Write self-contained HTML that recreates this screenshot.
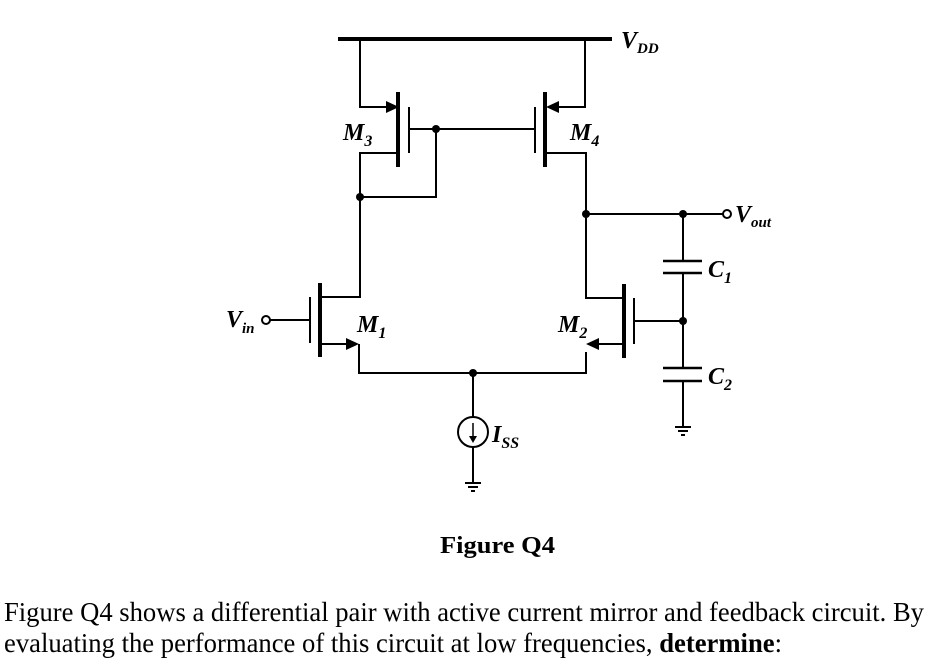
<!DOCTYPE html>
<html><head><meta charset="utf-8"><style>
html,body{margin:0;padding:0;background:#fff;}
svg{display:block}
</style></head><body>
<svg width="948" height="665" viewBox="0 0 948 665" xmlns="http://www.w3.org/2000/svg">
<g stroke="#000" stroke-width="2" fill="none">
<line x1="338" y1="39" x2="612" y2="39" stroke-width="4"/>
<polyline points="360,39 360,107 390,107"/>
<line x1="398" y1="92" x2="398" y2="167" stroke-width="4"/>
<line x1="409" y1="107" x2="409" y2="153"/>
<polyline points="398,153 360,153 360,197 436,197 436,129"/>
<line x1="409" y1="129" x2="535" y2="129"/>
<line x1="545" y1="92" x2="545" y2="167" stroke-width="4"/>
<line x1="535" y1="107" x2="535" y2="153"/>
<polyline points="554,107 585,107 585,39"/>
<polyline points="545,153 586,153 586,298 624,298"/>
<polyline points="360,197 360,297 320,297"/>
<line x1="320" y1="283" x2="320" y2="357" stroke-width="4"/>
<line x1="310" y1="297" x2="310" y2="343"/>
<line x1="270" y1="320" x2="310" y2="320"/>
<polyline points="320,344 350,344"/>
<polyline points="359,344 359,373 586,373 586,352"/>
<line x1="624" y1="284" x2="624" y2="358" stroke-width="4"/>
<line x1="634" y1="298" x2="634" y2="344"/>
<line x1="634" y1="321" x2="683" y2="321"/>
<line x1="596" y1="344" x2="624" y2="344"/>
<line x1="586" y1="214" x2="723" y2="214"/>
<line x1="683" y1="214" x2="683" y2="261"/>
<line x1="663" y1="261" x2="702" y2="261" stroke-width="2.5"/>
<line x1="663" y1="273" x2="702" y2="273" stroke-width="2.5"/>
<line x1="683" y1="273" x2="683" y2="368"/>
<line x1="663" y1="368" x2="702" y2="368" stroke-width="2.5"/>
<line x1="663" y1="381" x2="702" y2="381" stroke-width="2.5"/>
<line x1="683" y1="381" x2="683" y2="426"/>
<line x1="675" y1="427" x2="691" y2="427"/>
<line x1="678" y1="431" x2="688" y2="431"/>
<line x1="681" y1="435" x2="685" y2="435"/>
<line x1="473" y1="373" x2="473" y2="417"/>
<circle cx="473" cy="432" r="15"/>
<line x1="473" y1="423" x2="473" y2="440" stroke-width="1.5"/>
<line x1="473" y1="447" x2="473" y2="482"/>
<line x1="465" y1="483" x2="481" y2="483"/>
<line x1="468" y1="487" x2="478" y2="487"/>
<line x1="471" y1="491" x2="475" y2="491"/>
<circle cx="266" cy="320" r="4" fill="#fff"/>
<circle cx="727" cy="214" r="4" fill="#fff"/>
</g>
<g fill="#000">
<polygon points="399,107 386,101 386,113"/>
<polygon points="546,107 559,101 559,113"/>
<polygon points="359,344 346,338 346,350"/>
<polygon points="586,344 599,338 599,350"/>
<polygon points="473,443 469,436 477,436"/>
<circle cx="436" cy="129" r="4"/><circle cx="360" cy="197" r="4"/>
<circle cx="586" cy="214" r="4"/><circle cx="683" cy="214" r="4"/>
<circle cx="683" cy="321" r="4"/><circle cx="473" cy="373" r="4"/>
</g>
<g font-family="Liberation Serif, serif" font-weight="bold" font-style="italic" fill="#000">
<text x="621" y="48" font-size="24">V<tspan font-size="15" dy="5">DD</tspan></text>
<text x="343" y="140" font-size="24">M<tspan font-size="16" dy="6">3</tspan></text>
<text x="570" y="140" font-size="24">M<tspan font-size="16" dy="6">4</tspan></text>
<text x="357" y="332" font-size="24">M<tspan font-size="16" dy="6">1</tspan></text>
<text x="558" y="332" font-size="24">M<tspan font-size="16" dy="6">2</tspan></text>
<text x="226" y="327" font-size="24">V<tspan font-size="15" dy="6">in</tspan></text>
<text x="735" y="222" font-size="24">V<tspan font-size="15" dy="5">out</tspan></text>
<text x="708" y="277" font-size="24">C<tspan font-size="16" dy="6">1</tspan></text>
<text x="708" y="384" font-size="24">C<tspan font-size="16" dy="6">2</tspan></text>
<text x="492" y="442" font-size="24">I<tspan font-size="16" dy="6">SS</tspan></text>
</g>
<text x="440" y="553" font-family="Liberation Serif, serif" font-weight="bold" font-size="24" textLength="115" lengthAdjust="spacingAndGlyphs">Figure Q4</text>
<text x="4" y="621" font-family="Liberation Serif, serif" font-size="27" textLength="920" lengthAdjust="spacingAndGlyphs">Figure Q4 shows a differential pair with active current mirror and feedback circuit. By</text>
<text x="4" y="652" font-family="Liberation Serif, serif" font-size="27" textLength="778" lengthAdjust="spacingAndGlyphs">evaluating the performance of this circuit at low frequencies, <tspan font-weight="bold">determine</tspan>:</text>
</svg>
</body></html>
